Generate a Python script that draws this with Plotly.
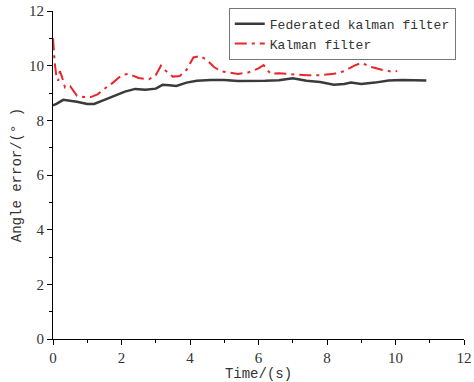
import plotly.graph_objects as go

# Federated kalman filter
t_fed = [0, 0.1, 0.3, 0.5, 0.7, 1.0, 1.2, 1.5, 1.8, 2.1, 2.4, 2.7, 3.0, 3.2, 3.4, 3.6, 3.9,
         4.2, 4.6, 5.0, 5.4, 5.8, 6.2, 6.6, 7.0, 7.4, 7.8, 8.2, 8.5, 8.7, 9.0, 9.4, 9.8,
         10.2, 10.6, 10.9]
v_fed = [8.55, 8.6, 8.75, 8.72, 8.68, 8.6, 8.6, 8.75, 8.9, 9.05, 9.15, 9.12, 9.16, 9.3,
         9.28, 9.26, 9.38, 9.45, 9.48, 9.48, 9.44, 9.44, 9.45, 9.47, 9.54, 9.45, 9.4, 9.3,
         9.33, 9.38, 9.33, 9.38, 9.46, 9.48, 9.48, 9.46]

# Kalman filter
t_kf = [0, 0.02, 0.05, 0.1, 0.15, 0.2, 0.26, 0.35, 0.5, 0.7, 0.9, 1.1, 1.3, 1.5, 1.75,
        2.0, 2.2, 2.5, 2.8, 3.0, 3.15, 3.3, 3.5, 3.7, 3.9, 4.1, 4.3, 4.5, 4.7, 4.9, 5.1,
        5.4, 5.7, 6.0, 6.15, 6.35, 6.6, 7.0, 7.4, 7.8, 8.2, 8.5, 8.8, 9.0, 9.3, 9.6, 9.9,
        10.05]
v_kf = [11.0, 10.6, 10.1, 9.6, 9.45, 9.8, 9.6, 9.2, 9.25, 8.9, 8.85, 8.85, 8.95, 9.15,
        9.38, 9.65, 9.7, 9.55, 9.5, 9.65, 10.0, 9.8, 9.6, 9.62, 9.85, 10.3, 10.35, 10.2,
        9.95, 9.8, 9.75, 9.7, 9.75, 9.9, 10.02, 9.7, 9.72, 9.68, 9.65, 9.65, 9.7, 9.8,
        10.0, 10.1, 9.95, 9.85, 9.78, 9.8]

x_ticks = [0, 2, 4, 6, 8, 10, 12]
y_ticks = [0, 2, 4, 6, 8, 10, 12]

fig = go.Figure()
fig.add_trace(go.Scatter(x=t_fed, y=v_fed, mode="lines", name="Federated kalman filter",
                         line=dict(color="#3a3a3a", width=2.5)))
fig.add_trace(go.Scatter(x=t_kf, y=v_kf, mode="lines", name="Kalman filter",
                         line=dict(color="#e8262b", width=2, dash="12px,5px,3px,5px")))

tickfont = dict(family="Liberation Serif", size=15, color="#333333")
axis_common = dict(showline=True, linecolor="black", linewidth=1.2, ticks="outside",
                   ticklen=5, tickcolor="black", tickwidth=1.2, showgrid=False,
                   zeroline=False, mirror=False, tickfont=tickfont, automargin=False,
                   minor=dict(ticks="outside", ticklen=3, tickcolor="black", dtick=1,
                              showgrid=False))

fig.update_layout(
    width=474, height=382,
    margin=dict(l=53, r=10, t=8, b=43),
    plot_bgcolor="white", paper_bgcolor="white",
    xaxis=dict(range=[0, 12], tickvals=x_ticks,
               title=dict(text="Time/(s)", standoff=0,
                          font=dict(family="Liberation Mono", size=14, color="#333333")),
               **axis_common),
    yaxis=dict(range=[0, 12], tickvals=y_ticks,
               title=dict(text="Angle error/(° )", standoff=4,
                          font=dict(family="Liberation Mono", size=14, color="#333333")),
               **axis_common),
    legend=dict(x=0.98, y=1.01, xanchor="right", yanchor="top",
                bordercolor="#777777", borderwidth=1, bgcolor="white",
                font=dict(family="Liberation Mono", size=13, color="#333333"),
                tracegroupgap=0, itemwidth=30),
    showlegend=True,
)

fig.write_html("out.html", config={"displayModeBar": False},
               post_script="document.body.style.margin='0';document.body.style.overflow='hidden';")
